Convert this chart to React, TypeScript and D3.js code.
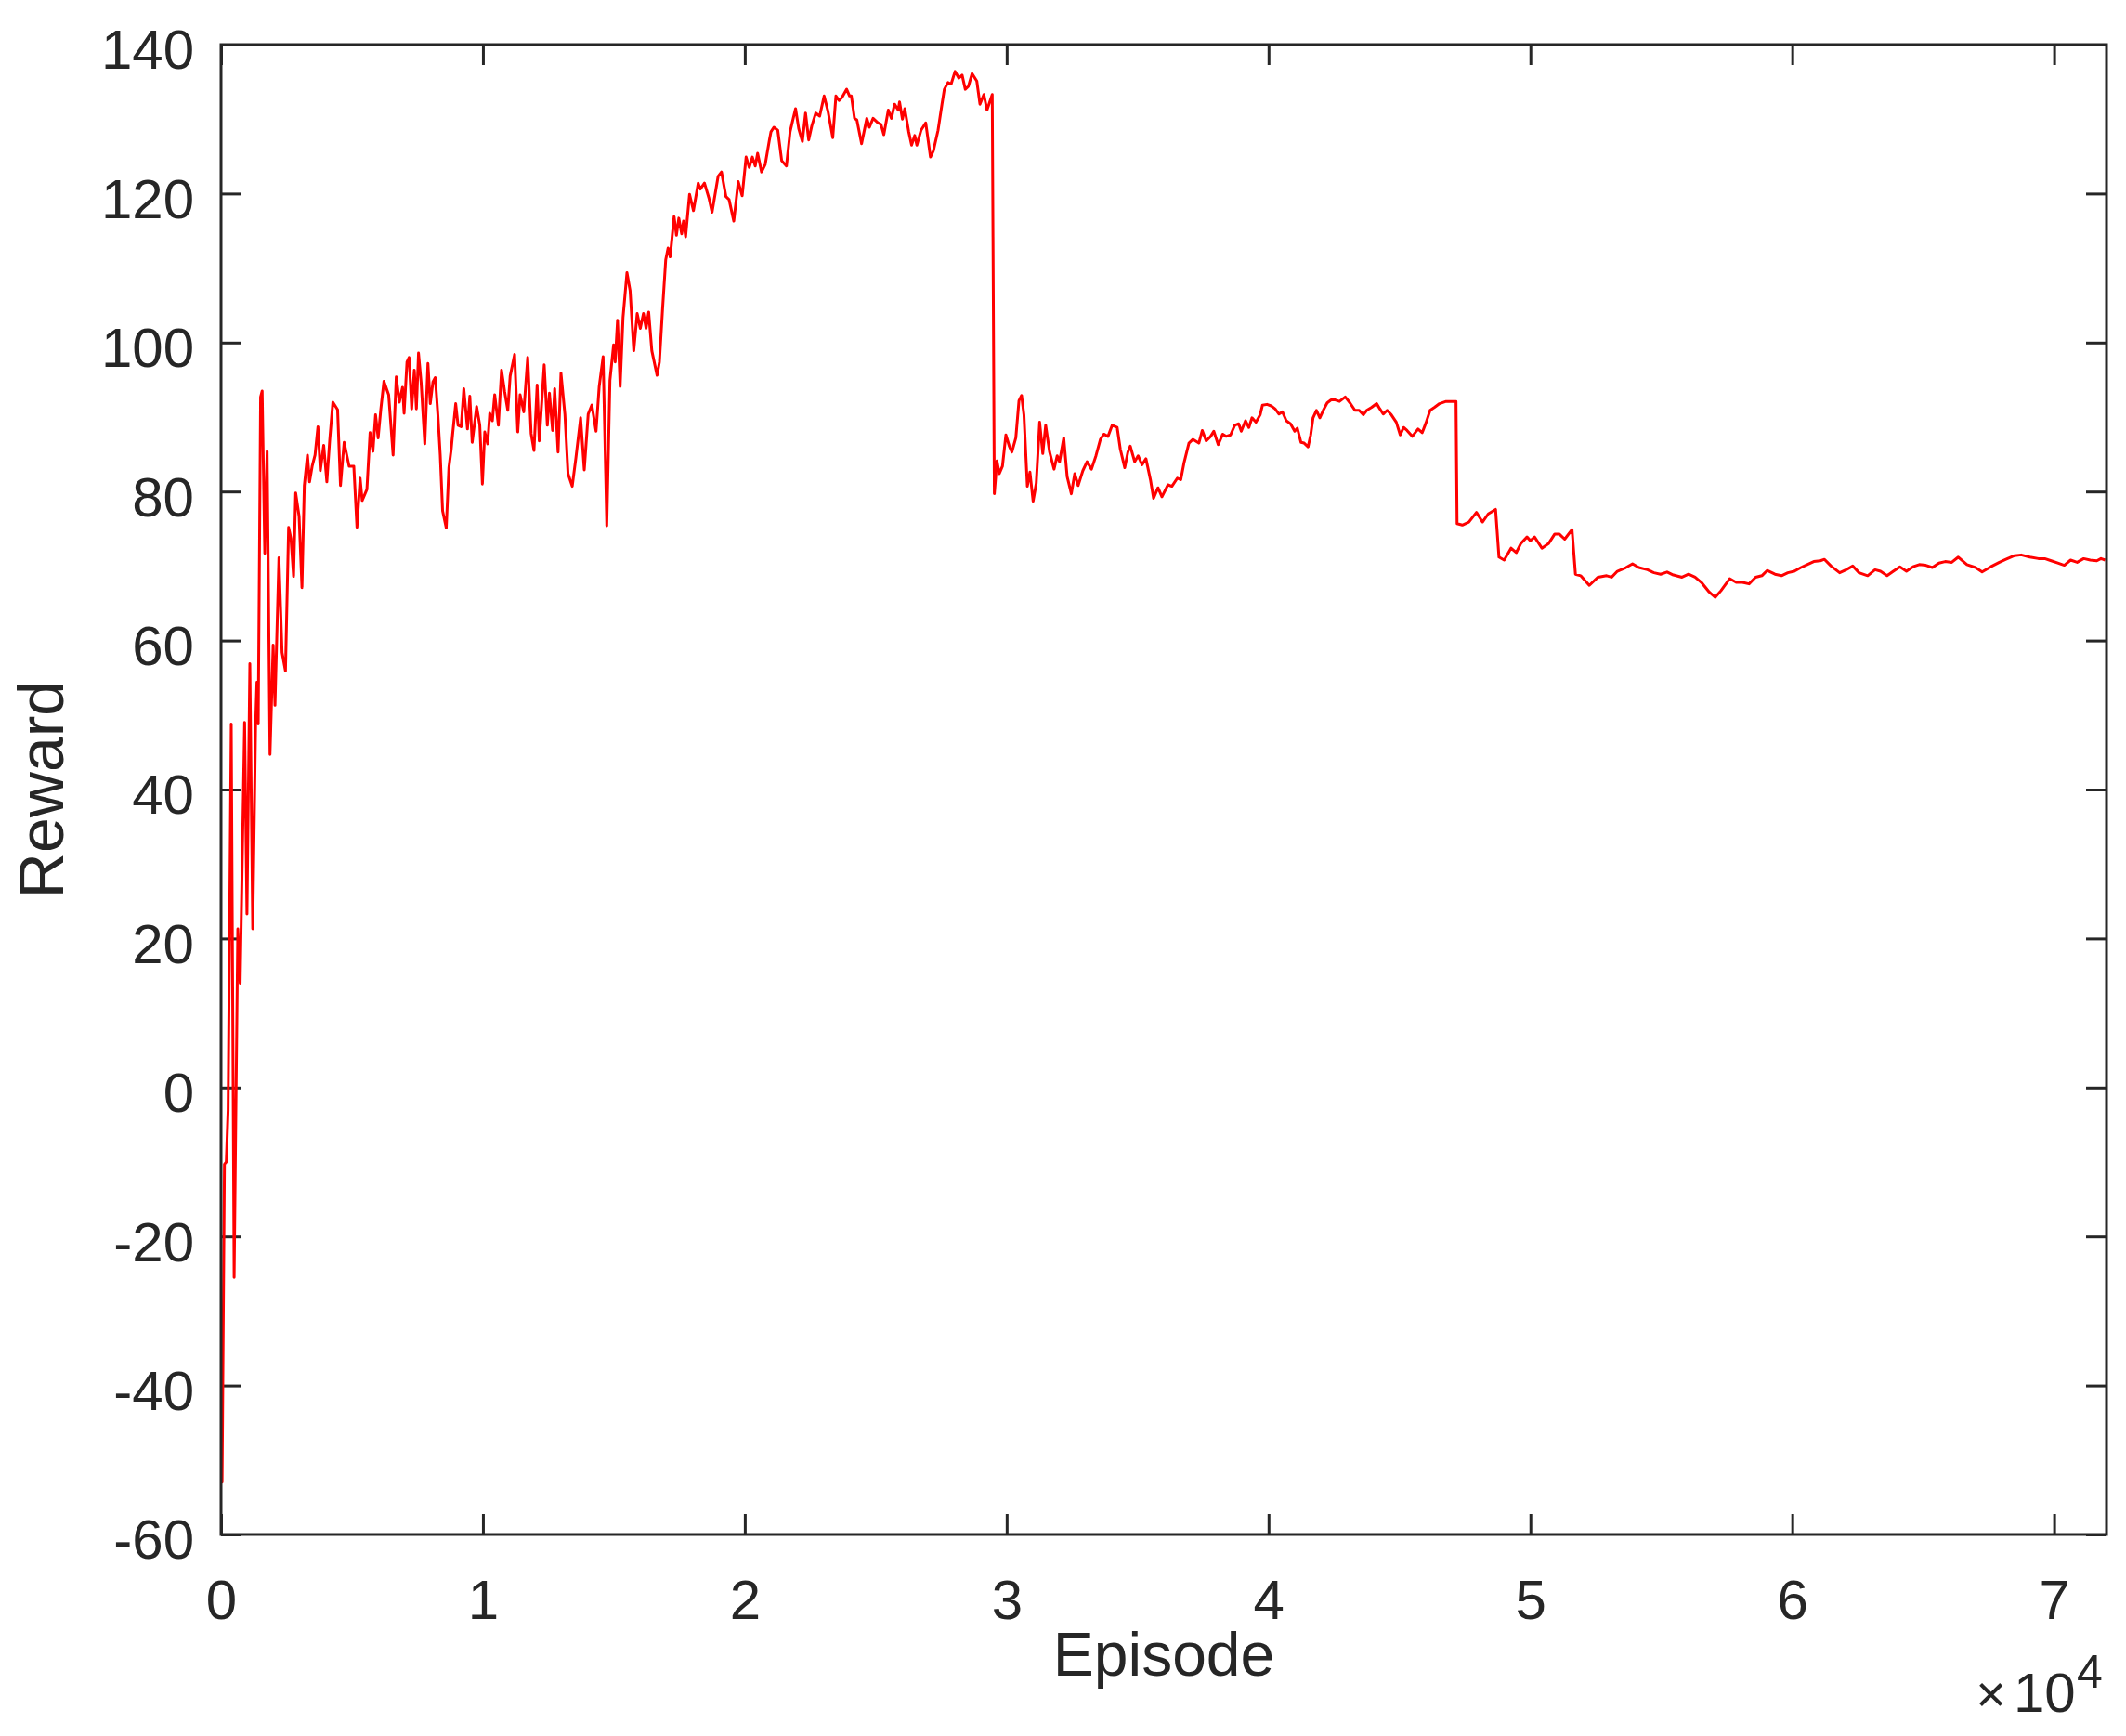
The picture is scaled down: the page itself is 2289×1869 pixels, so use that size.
import React, { useRef, useEffect } from 'react';
import * as d3 from 'd3';

// reward curve in four stretches (episodes, reward)
const warmupEpisodes = [0, 40, 130, 200, 270, 390, 500, 640, 730, 900, 990, 1100, 1210, 1320, 1370, 1420, 1510, 1570, 1670, 1760, 1870, 1990, 2060, 2210, 2330, 2460, 2580, 2670, 2770, 2850, 2980, 3090, 3180, 3300, 3380, 3480, 3590, 3700, 3790, 3920, 4040, 4150, 4270, 4450, 4560, 4700, 4890, 5070, 5190, 5310, 5390, 5570, 5690, 5800, 5900, 6000, 6100, 6220, 6400, 6570, 6690, 6810, 6930, 6990, 7100, 7180, 7280, 7380, 7460, 7540, 7640, 7780, 7900, 7990, 8090, 8180, 8280, 8370, 8460, 8600, 8700, 8790, 8840, 8960, 9050, 9170, 9270, 9410, 9500, 9590, 9760, 9880, 9980, 10070, 10180, 10260, 10360, 10450, 10590, 10710, 10830, 10950, 11040, 11210, 11330, 11420, 11560, 11710, 11840, 11950, 12070, 12150, 12340, 12460, 12540, 12660, 12740, 12870];
const warmupReward = [-42, -53, -10.3, -10, -3, 48.8, -25.5, 21.3, 14, 49, 23.3, 56.9, 21.3, 48.8, 54.4, 48.8, 92.7, 93.5, 71.7, 85.4, 44.7, 59.4, 51.3, 71.1, 58.4, 55.9, 75.2, 73.7, 68.6, 79.8, 76.7, 67.1, 80.8, 84.9, 81.3, 83.4, 84.9, 88.7, 82.8, 86.2, 81.3, 86.9, 92, 91, 80.8, 86.6, 83.4, 83.4, 75.2, 81.8, 78.8, 80.3, 87.9, 85.4, 90.3, 87.2, 91, 94.8, 93, 84.9, 95.4, 92, 94, 90.5, 97.4, 98, 91.1, 96.3, 91.1, 98.6, 94.7, 86.4, 97.2, 91.8, 94.7, 95.3, 90.3, 84.9, 77.4, 75.1, 83.2, 85.7, 87.6, 91.8, 88.9, 88.7, 93.8, 88.4, 92.8, 86.6, 91.4, 88.9, 81, 88, 86.4, 90.5, 89.5, 93, 88.9, 96.3, 93.4, 90.9, 95.5, 98.4, 88, 93, 90.7, 98, 87.8, 85.5, 94.3, 86.8, 97, 88.9, 93.2, 88.2, 93.8, 85.3];

const climbEpisodes = [12980, 13130, 13250, 13410, 13550, 13730, 13870, 14020, 14160, 14320, 14440, 14590, 14730, 14850, 14990, 15050, 15140, 15240, 15350, 15500, 15620, 15760, 15890, 16010, 16130, 16230, 16330, 16450, 16650, 16740, 16860, 16980, 17070, 17150, 17300, 17390, 17480, 17590, 17660, 17740, 17890, 18040, 18220, 18300, 18460, 18630, 18750, 18980, 19110, 19280, 19400, 19580, 19750, 19900, 20050, 20170, 20290, 20400, 20490, 20640, 20780, 20940, 21000, 21110, 21260, 21410, 21590, 21730, 21850, 21940, 22060, 22200, 22320, 22440, 22560, 22710, 22860, 23030, 23180, 23360, 23480, 23600, 23710, 23890, 24000, 24070, 24190, 24280, 24460, 24660, 24760, 24900, 25080, 25200, 25310, 25480, 25600, 25720, 25860, 25910, 26020, 26110, 26260, 26370, 26490, 26570, 26730, 26910, 27090, 27200, 27380, 27530, 27620, 27760, 27880, 28030, 28170, 28300, 28420, 28540, 28680, 28860, 28980, 29130, 29250, 29450];
const climbReward = [95.9, 90.4, 82.4, 80.7, 84.5, 89.9, 82.9, 90.4, 91.6, 88.1, 94.1, 98.1, 75.4, 94.9, 99.7, 97.4, 103, 94.1, 103.4, 109.4, 107, 98.9, 103.9, 101.9, 103.9, 101.9, 104.1, 98.9, 95.6, 97.4, 104.5, 111.1, 112.7, 111.5, 116.9, 114.4, 116.7, 114.6, 116.3, 114.2, 119.9, 117.7, 121.4, 120.6, 121.4, 119.4, 117.5, 122.3, 122.9, 119.6, 119.2, 116.3, 121.6, 119.7, 124.9, 123.5, 124.9, 123.7, 125.4, 122.9, 123.9, 127.2, 128.3, 128.9, 128.5, 124.4, 123.7, 128.3, 130.1, 131.4, 128.7, 127, 130.8, 127.2, 129.1, 130.8, 130.4, 133.1, 131, 127.5, 133.1, 132.5, 132.9, 134, 133.1, 133.1, 130.1, 129.9, 126.7, 130.1, 128.9, 130.1, 129.5, 129.3, 127.9, 131.2, 130.1, 132, 131.2, 132.3, 130, 131.4, 128.3, 126.5, 127.8, 126.5, 128.5, 129.5, 124.9, 125.7, 128.5, 132, 134, 134.9, 134.7, 136.4, 135.5, 135.9, 134, 134.4, 136.1, 135.1, 132, 133.3, 131.2, 133.3];

const plateauEpisodes = [29530, 29630, 29720, 29840, 29970, 30100, 30200, 30350, 30470, 30570, 30660, 30790, 30890, 31010, 31130, 31260, 31380, 31490, 31640, 31810, 31930, 32020, 32180, 32310, 32470, 32600, 32730, 32910, 33070, 33240, 33410, 33580, 33710, 33870, 34030, 34220, 34340, 34510, 34630, 34720, 34890, 35020, 35170, 35320, 35490, 35610, 35780, 35930, 36160, 36310, 36520, 36650, 36770, 36960, 37110, 37340, 37470, 37620, 37790, 37910, 38080, 38250, 38380, 38550, 38710, 38860, 38960, 39120, 39250, 39370, 39520, 39680, 39770, 39940, 40100, 40250, 40400, 40530, 40680, 40840, 41000, 41100, 41240, 41360, 41510, 41610, 41700, 41830, 41960, 42090, 42240, 42390, 42550, 42710, 42930, 43110, 43300, 43460, 43620, 43750, 43940, 44130, 44250, 44380, 44530, 44690, 44880, 45030, 45160, 45290, 45490, 45710, 45870, 46020, 46170, 46340, 46530, 46780, 47030, 47160];
const plateauReward = [79.7, 84.1, 82.4, 83.4, 87.6, 86.1, 85.3, 87.2, 92.2, 92.9, 90.3, 80.7, 82.6, 78.7, 81.1, 89.3, 85.1, 88.9, 85.3, 83, 84.8, 84, 87.2, 82, 79.7, 82.4, 80.8, 82.8, 84, 83, 84.8, 87, 87.7, 87.4, 88.9, 88.6, 85.7, 83.2, 85.3, 86.1, 84, 84.8, 83.6, 84.4, 81.6, 79.1, 80.5, 79.3, 80.9, 80.7, 81.8, 81.6, 83.8, 86.5, 87, 86.5, 88.2, 86.8, 87.4, 88.1, 86.3, 87.7, 87.4, 87.6, 88.9, 89.1, 88.1, 89.5, 88.6, 89.9, 89.3, 90.3, 91.6, 91.7, 91.5, 91.1, 90.4, 90.7, 89.5, 89.1, 88.1, 88.5, 86.6, 86.5, 86, 87.6, 89.9, 90.9, 89.9, 90.9, 91.9, 92.3, 92.3, 92.1, 92.7, 91.9, 90.9, 90.9, 90.3, 90.9, 91.3, 91.8, 91.1, 90.4, 90.9, 90.3, 89.3, 87.6, 88.6, 88.2, 87.4, 88.4, 87.9, 89.3, 90.9, 91.3, 91.8, 92.1, 92.1, 92.1];

const settleEpisodes = [47200, 47400, 47650, 47940, 48170, 48390, 48670, 48800, 49000, 49260, 49460, 49630, 49870, 50000, 50160, 50440, 50690, 50930, 51100, 51310, 51590, 51720, 51920, 52250, 52580, 52910, 53100, 53320, 53650, 53900, 54140, 54470, 54720, 54970, 55220, 55460, 55790, 56040, 56290, 56530, 56830, 57060, 57280, 57610, 57860, 58100, 58350, 58600, 58840, 59040, 59340, 59590, 59830, 60080, 60330, 60570, 60820, 61070, 61230, 61480, 61810, 62060, 62310, 62550, 62880, 63160, 63370, 63620, 63860, 64110, 64360, 64610, 64850, 65100, 65350, 65600, 65840, 66090, 66340, 66670, 67000, 67250, 67580, 67910, 68160, 68490, 68740, 69070, 69400, 69640, 69890, 70140, 70390, 70630, 70880, 71130, 71380, 71630, 71790, 71950];
const settleReward = [75.7, 75.5, 75.9, 77.2, 75.9, 77, 77.6, 71.2, 70.8, 72.4, 71.8, 73.0, 73.9, 73.4, 73.9, 72.4, 73, 74.3, 74.3, 73.6, 74.9, 68.9, 68.7, 67.4, 68.5, 68.7, 68.5, 69.3, 69.8, 70.3, 69.8, 69.5, 69.1, 68.9, 69.2, 68.8, 68.5, 68.9, 68.5, 67.8, 66.5, 65.8, 66.7, 68.3, 67.8, 67.8, 67.6, 68.5, 68.7, 69.4, 68.9, 68.7, 69.1, 69.3, 69.8, 70.2, 70.6, 70.7, 70.9, 70.0, 69.1, 69.5, 70, 69.1, 68.7, 69.5, 69.3, 68.7, 69.3, 69.9, 69.3, 69.9, 70.2, 70.1, 69.8, 70.4, 70.6, 70.5, 71.2, 70.2, 69.8, 69.2, 69.9, 70.5, 70.9, 71.4, 71.5, 71.2, 71.0, 71.0, 70.7, 70.4, 70.1, 70.8, 70.5, 71.0, 70.8, 70.7, 71.0, 70.8];

const xTicks = [0, 10000, 20000, 30000, 40000, 50000, 60000, 70000];
const yTicks = [-60, -40, -20, 0, 20, 40, 60, 80, 100, 120, 140];

const FONT = '"Liberation Sans", Arial, Helvetica, sans-serif';
const INK = '#262626';

function App() {
  const svgRef = useRef(null);

  useEffect(() => {
    var margin = { top: 48, right: 21, bottom: 217, left: 238 },
      totalW = 2289,
      totalH = 1869,
      width = totalW - margin.left - margin.right,
      height = totalH - margin.top - margin.bottom;

    var svg = d3.select(svgRef.current);
    svg.selectAll('*').remove();

    var g = svg.append('g').attr('transform', `translate(${margin.left}, ${margin.top})`);

    var data = [];
    [[warmupEpisodes, warmupReward], [climbEpisodes, climbReward],
     [plateauEpisodes, plateauReward], [settleEpisodes, settleReward]].forEach(([eps, rs]) => {
      eps.forEach((e, i) => data.push({ ep: e, r: rs[i] }));
    });

    const x_scale = d3.scaleLinear().domain([0, 72000]).range([0, width]);
    const y_scale = d3.scaleLinear().domain([-60, 140]).range([height, 0]);

    g.append('clipPath').attr('id', 'plotclip')
      .append('rect').attr('width', width).attr('height', height);

    const tick = 22;

    // bottom axis
    var xb = g.append('g')
      .attr('transform', `translate(0, ${height})`)
      .call(d3.axisBottom(x_scale).tickValues(xTicks).tickSizeInner(-tick).tickSizeOuter(0).tickPadding(48)
        .tickFormat(d => String(d / 10000)));
    // top axis (ticks only)
    var xt = g.append('g')
      .call(d3.axisTop(x_scale).tickValues(xTicks).tickSizeInner(-tick).tickSizeOuter(0).tickFormat(() => ''));
    // left axis, plain hyphen for negatives like the original
    var yl = g.append('g')
      .call(d3.axisLeft(y_scale).tickValues(yTicks).tickSizeInner(-tick).tickSizeOuter(0).tickPadding(29)
        .tickFormat(d => String(d)));
    // right axis (ticks only)
    var yr = g.append('g')
      .attr('transform', `translate(${width}, 0)`)
      .call(d3.axisRight(y_scale).tickValues(yTicks).tickSizeInner(-tick).tickSizeOuter(0).tickFormat(() => ''));

    [xb, xt, yl, yr].forEach(a => {
      a.select('.domain').remove();
      a.selectAll('.tick line').attr('stroke', INK).attr('stroke-width', 3);
      a.selectAll('.tick text')
        .attr('fill', INK)
        .style('font-family', FONT)
        .style('font-size', '60px');
    });
    yl.selectAll('.tick text').attr('dy', '0.43em');

    // the line
    const line = d3.line().x(d => x_scale(d.ep)).y(d => y_scale(d.r));
    g.append('path')
      .datum(data)
      .attr('clip-path', 'url(#plotclip)')
      .attr('fill', 'none')
      .attr('stroke', '#ff0000')
      .attr('stroke-width', 3)
      .attr('stroke-linejoin', 'round')
      .attr('d', line);

    // box
    g.append('rect')
      .attr('width', width).attr('height', height)
      .attr('fill', 'none').attr('stroke', INK).attr('stroke-width', 3);

    // axis labels
    g.append('text')
      .attr('x', width / 2)
      .attr('y', height + 152)
      .attr('text-anchor', 'middle')
      .attr('fill', INK)
      .style('font-family', FONT)
      .style('font-size', '66px')
      .text('Episode');

    g.append('text')
      .attr('transform', `translate(${68 - margin.left}, ${height / 2}) rotate(-90)`)
      .attr('text-anchor', 'middle')
      .attr('fill', INK)
      .style('font-family', FONT)
      .style('font-size', '68px')
      .text('Reward');

    // exponent
    g.append('text')
      .attr('x', 2160 - margin.left)
      .attr('y', 1843 - margin.top)
      .attr('text-anchor', 'end')
      .attr('fill', INK)
      .style('font-family', FONT)
      .style('font-size', '56px')
      .text('\u00d7');
    g.append('text')
      .attr('x', 2168 - margin.left)
      .attr('y', 1843 - margin.top)
      .attr('fill', INK)
      .style('font-family', FONT)
      .style('font-size', '60px')
      .text('10');
    g.append('text')
      .attr('x', 2236 - margin.left)
      .attr('y', 1817 - margin.top)
      .attr('fill', INK)
      .style('font-family', FONT)
      .style('font-size', '50px')
      .text('4');
  }, []);

  return (
    <div style={{ position: 'absolute', left: 0, top: 0, background: '#fff' }}>
      <svg ref={svgRef} width={2289} height={1869} style={{ display: 'block', background: '#fff' }}></svg>
    </div>
  );
}

export default App;
